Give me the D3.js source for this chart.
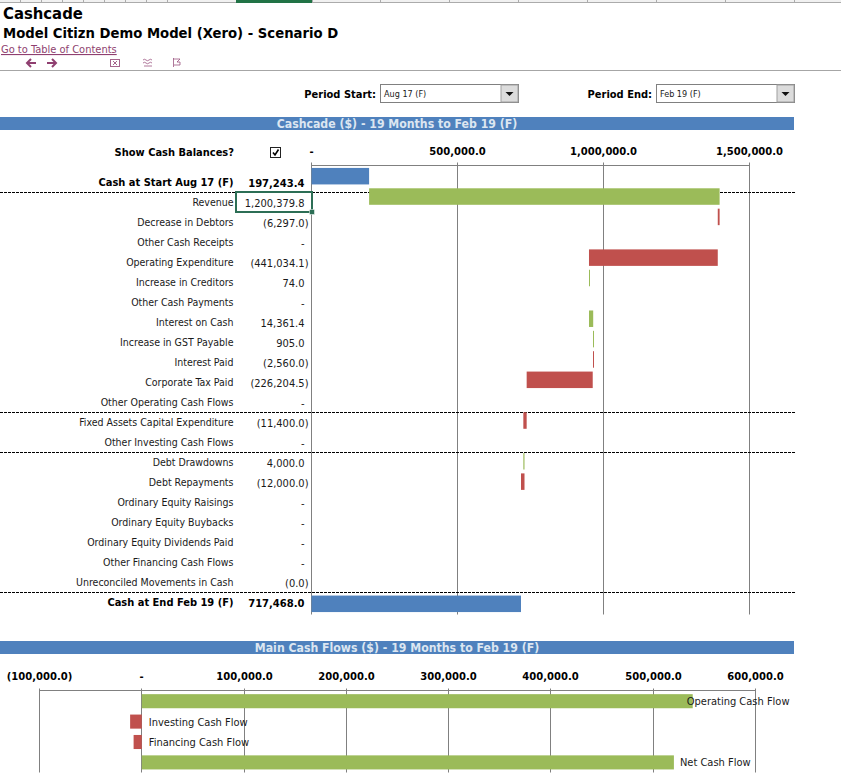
<!DOCTYPE html>
<html lang="en">
<head>
<meta charset="utf-8">
<title>Cashcade</title>
<script src="https://d3js.org/d3.v7.min.js"></script>
<style>
  html, body { margin: 0; padding: 0; background: #fff; overflow: hidden; }
  svg { display: block; }
  text { font-family: "DejaVu Sans Condensed", "DejaVu Sans", sans-serif; fill: #1a1a1a; font-size: 11px; }
  .label { font-size: 10.5px; }
  .bold { font-weight: bold; font-size: 11px; fill: #000; }
  .num { font-family: "DejaVu Sans", sans-serif; font-weight: bold; font-size: 10px; fill: #000; }
  .axis text { font-family: "DejaVu Sans", sans-serif; font-weight: bold; font-size: 10px; fill: #000; }
  .axis line, .axis path { stroke: #808080; }
</style>
</head>
<body>
<div id="chart"></div>
<script>
// cashcade rows
const rowLabels = ["Cash at Start Aug 17 (F)", "Revenue", "Decrease in Debtors", "Other Cash Receipts",
  "Operating Expenditure", "Increase in Creditors", "Other Cash Payments", "Interest on Cash",
  "Increase in GST Payable", "Interest Paid", "Corporate Tax Paid", "Other Operating Cash Flows",
  "Fixed Assets Capital Expenditure", "Other Investing Cash Flows", "Debt Drawdowns", "Debt Repayments",
  "Ordinary Equity Raisings", "Ordinary Equity Buybacks", "Ordinary Equity Dividends Paid",
  "Other Financing Cash Flows", "Unreconciled Movements in Cash", "Cash at End Feb 19 (F)"];
const rowValues = [197243.4, 1200379.8, -6297.0, 0, -441034.1, 74.0, 0, 14361.4, 905.0, -2560.0, -226204.5, 0,
  -11400.0, 0, 4000.0, -12000.0, 0, 0, 0, 0, -0.01, 717468.0];
const totalRows = ["Cash at Start Aug 17 (F)", "Cash at End Feb 19 (F)"];
const dividerRows = ["Cash at Start Aug 17 (F)", "Other Operating Cash Flows", "Other Investing Cash Flows", "Unreconciled Movements in Cash"];
const cashTicks = [0, 500000, 1000000, 1500000];

// main cash flows
const flowLabels = ["Operating Cash Flow", "Investing Cash Flow", "Financing Cash Flow", "Net Cash Flow"];
const flowValues = [538624.6, -11400.0, -8000.0, 520224.6];
const flowTicks = [-100000, 0, 100000, 200000, 300000, 400000, 500000, 600000];

const width = 841, height = 783;
const green = "#9bbb59", red = "#c0504d", blue = "#4f81bd", purple = "#8f3f70";

const svg = d3.select("#chart").append("svg").attr("width", width).attr("height", height);

var fmt = d3.format(",.1f");
function money(v) {
  if (v === 0) return "-";
  return v < 0 ? "(" + fmt(Math.abs(v)) + ")" : fmt(v);
}

// sheet column header strip
const headerCols = [20, 41, 62, 83, 104, 125, 146, 167, 236, 312, 380, 449, 518, 587, 656, 725, 794];
svg.append("rect").attr("width", width).attr("height", 2).attr("fill", "#f1f1f1");
svg.append("line").attr("x1", 0).attr("x2", width).attr("y1", 2.5).attr("y2", 2.5).attr("stroke", "#ababab");
svg.selectAll(".col").data(headerCols).enter().append("line")
  .attr("x1", d => d + .5).attr("x2", d => d + .5).attr("y1", 0).attr("y2", 2).attr("stroke", "#ababab");
svg.append("rect").attr("x", 236).attr("y", 0).attr("width", 76).attr("height", 3).attr("fill", "#217346");

// titles
svg.append("text").attr("x", 3).attr("y", 19).attr("class", "bold").style("font-size", "16.5px").text("Cashcade");
svg.append("text").attr("x", 3).attr("y", 38).attr("class", "bold").style("font-size", "14.7px").text("Model Citizn Demo Model (Xero) - Scenario D");
svg.append("text").attr("x", 1).attr("y", 53).style("fill", purple).style("font-size", "11px")
  .attr("text-decoration", "underline").text("Go to Table of Contents");

// little nav icons
const icons = svg.append("g").attr("fill", "none").attr("stroke", purple);
icons.append("path").attr("stroke-width", 2).attr("d", "M36,63H27M31,59L27,63L31,67");
icons.append("path").attr("stroke-width", 2).attr("d", "M47,63H56M52,59L56,63L52,67");
icons.append("rect").attr("x", 110.5).attr("y", 59.5).attr("width", 9).attr("height", 7).attr("stroke-width", 1).attr("opacity", .8);
icons.append("path").attr("stroke-width", 1).attr("opacity", .8).attr("d", "M113,61L117,65M117,61L113,65");
icons.append("path").attr("stroke-width", 1).attr("opacity", .7).attr("d", "M143,60q1.5,-1.5 3,0t3,0t3,0M143,63q1.5,-1.5 3,0t3,0t3,0M144,66h8");
icons.append("path").attr("stroke-width", 1).attr("opacity", .7).attr("d", "M173.5,58V67M173.5,59H180L177,62H180V65H174");

svg.append("line").attr("x1", 0).attr("x2", width).attr("y1", 70.5).attr("y2", 70.5).attr("stroke", "#a6a6a6");

// period pickers
function picker(labelText, labelX, boxX, boxW, value) {
  svg.append("text").attr("x", labelX).attr("y", 98).attr("text-anchor", "end").attr("class", "bold").text(labelText);
  svg.append("rect").attr("x", boxX + .5).attr("y", 84.5).attr("width", boxW).attr("height", 18)
    .attr("fill", "#fff").attr("stroke", "#808080");
  svg.append("rect").attr("x", boxX + boxW - 17).attr("y", 85).attr("width", 17).attr("height", 17)
    .attr("fill", "#dcdcdc").attr("stroke", "#a0a0a0");
  let ax = boxX + boxW - 8.5;
  svg.append("path").attr("d", `M${ax - 4},92L${ax + 4},92L${ax},96Z`).attr("fill", "#111");
  svg.append("text").attr("x", boxX + 4).attr("y", 97).style("font-size", "9px").text(value);
}
picker("Period Start:", 376, 380, 138, "Aug 17 (F)");
picker("Period End:", 652, 656, 138, "Feb 19 (F)");

// section band
function band(y, label) {
  svg.append("rect").attr("x", 0).attr("y", y).attr("width", 794).attr("height", 13).attr("fill", blue);
  svg.append("text").attr("x", 397).attr("y", y + 11).attr("text-anchor", "middle").attr("class", "bold")
    .style("fill", "#dce6f1").style("font-size", "12.2px").text(label);
}
band(117, "Cashcade ($) - 19 Months to Feb 19 (F)");
band(641, "Main Cash Flows ($) - 19 Months to Feb 19 (F)");

// show balances checkbox
svg.append("text").attr("x", 234).attr("y", 156).attr("text-anchor", "end").attr("class", "bold").text("Show Cash Balances?");
svg.append("rect").attr("x", 270.5).attr("y", 147.5).attr("width", 10).attr("height", 10).attr("fill", "#fff").attr("stroke", "#222");
svg.append("path").attr("d", "M273,152.5L275,155L278.5,149.5").attr("fill", "none").attr("stroke", "#000").attr("stroke-width", 1.6);

// ---- cashcade ----
const xCash = d3.scaleLinear().domain([0, 1500000]).range([311.5, 749.5]);
const yBar = d3.scaleBand().domain(rowLabels).range([166, 614]).paddingInner(0.19).paddingOuter(0.095);
const yRow = d3.scaleBand().domain(rowLabels).range([172, 612]);

const cashAxis = d3.axisTop(xCash).tickValues(cashTicks).tickSize(-449).offset(0)
  .tickFormat(d => d === 0 ? "-" : fmt(d));
svg.append("g").attr("class", "axis cash").attr("transform", "translate(0,165.5)").call(cashAxis)
  .call(g => g.selectAll(".tick line").attr("y1", -3))
  .call(g => g.selectAll(".tick text").attr("y", -11));
svg.select(".cash .domain").attr("d", `M${xCash(0)},0H${xCash(1500000)}`);

svg.selectAll(".divider").data(dividerRows).enter().append("line")
  .attr("x1", 0).attr("x2", 795)
  .attr("y1", d => yRow(d) + yRow.bandwidth() + .5).attr("y2", d => yRow(d) + yRow.bandwidth() + .5)
  .attr("stroke", "#000").attr("stroke-dasharray", "3,1");

// running balance for the waterfall
let run = 0;
const steps = rowLabels.map(function(name, i) {
  let v = rowValues[i], from, to;
  if (totalRows.includes(name)) { from = 0; to = v; run = v; }
  else { from = run; to = run + v; run = to; }
  return { name: name, value: v, from: from, to: to };
});

// tiny movements still show as a 1px sliver, snapped so the colour stays clean
function stepWidth(d) { return Math.abs(xCash(d.to) - xCash(d.from)); }
svg.selectAll(".step").data(steps.filter(d => Math.abs(d.value) >= 1)).enter().append("rect")
  .attr("x", function(d) {
    let x = xCash(Math.min(d.from, d.to));
    return stepWidth(d) < 1 ? Math.round(x) : x;
  })
  .attr("y", d => yBar(d.name))
  .attr("width", d => Math.max(1, stepWidth(d)))
  .attr("height", yBar.bandwidth())
  .attr("fill", d => totalRows.includes(d.name) ? blue : d.value < 0 ? red : green);

// row labels and values
svg.selectAll(".rowlabel").data(steps).enter().append("text")
  .attr("x", 233.5).attr("y", d => yRow(d.name) + 14).attr("text-anchor", "end")
  .attr("class", d => totalRows.includes(d.name) ? "bold" : "label")
  .text(d => d.name);

svg.selectAll(".rowvalue").data(steps).enter().append("text")
  .attr("x", d => d.value < 0 ? 308.5 : 304.5).attr("y", d => yRow(d.name) + 15).attr("text-anchor", "end")
  .attr("class", d => totalRows.includes(d.name) ? "num" : null)
  .text(d => money(d.value));

// selected cell
svg.append("rect").attr("x", 236).attr("y", 192).attr("width", 76).attr("height", 20)
  .attr("fill", "none").attr("stroke", "#2c6e55").attr("stroke-width", 2);
svg.append("rect").attr("x", 309.5).attr("y", 209.5).attr("width", 5).attr("height", 5)
  .attr("fill", "#2c6e55").attr("stroke", "#fff").attr("stroke-width", .5);

// ---- main cash flows ----
const xFlow = d3.scaleLinear().domain([-100000, 600000]).range([39.5, 755.5]);
const yFlow = d3.scaleBand().domain(flowLabels).range([691, 772.6]).paddingInner(0.31).paddingOuter(0.155);

const flowAxis = d3.axisTop(xFlow).tickValues(flowTicks).tickSize(-82).offset(0)
  .tickFormat(d => d === 0 ? "-" : money(d));
svg.append("g").attr("class", "axis flow").attr("transform", "translate(0,690.5)").call(flowAxis)
  .call(g => g.selectAll(".tick").attr("transform", d => `translate(${Math.floor(xFlow(d)) + .5},0)`))
  .call(g => g.selectAll(".tick line").attr("y1", -2))
  .call(g => g.selectAll(".tick text").attr("y", -11));
svg.select(".flow .domain").attr("d", `M${xFlow(-100000)},0H${xFlow(600000)}`);

const flows = flowLabels.map((name, i) => ({ name: name, value: flowValues[i] }));
svg.selectAll(".flowbar").data(flows).enter().append("rect")
  .attr("x", d => xFlow(Math.min(0, d.value)))
  .attr("y", d => yFlow(d.name))
  .attr("width", d => Math.abs(xFlow(d.value) - xFlow(0)))
  .attr("height", yFlow.bandwidth())
  .attr("fill", d => d.value < 0 ? red : green);

svg.selectAll(".flowlabel").data(flows).enter().append("text")
  .attr("x", function(d) {
    if (d.value < 0) return xFlow(0) + 7;
    return d.name === "Net Cash Flow" ? xFlow(d.value) + 6 : xFlow(d.value) - 6;
  })
  .attr("y", d => yFlow(d.name) + 11)
  .text(d => d.name);
</script>
</body>
</html>
